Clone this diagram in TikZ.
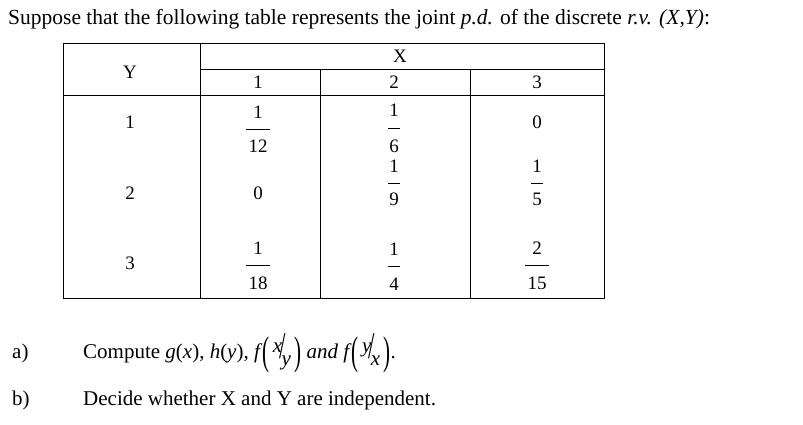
\documentclass[tikz,border=0pt]{standalone}
\usepackage{fontspec}
\setmainfont{Liberation Serif}
\usepackage{graphicx}
\newcommand{\slfrac}[2]{\,\raisebox{6pt}{\itshape #1}\hspace{-3pt}\scalebox{1.1}[1.8]{/}\hspace{-4pt}\raisebox{-7pt}{\itshape #2}\,}
\newcommand{\bp}[1]{\raisebox{-6pt}{\scalebox{1}[1.9]{#1}}}
\begin{document}
\begin{tikzpicture}[x=1pt,y=-1pt,
  cell/.style={font=\fontsize{19}{21}\selectfont,inner sep=0pt,anchor=center},
  txt/.style={font=\fontsize{21}{24}\selectfont,inner sep=0pt,anchor=base west},
  fb/.style={line width=0.7pt},
  tl/.style={line width=0.8pt}]
\useasboundingbox (0,0) rectangle (803,424);
\node[txt,font=\fontsize{21.5}{24}\selectfont] (title) at (8,24) {Suppose that the following table represents the joint \textit{p.d.} of the discrete \textit{r.v.} \textit{(X,Y)}:};
% table
\draw[tl] (63,43) rectangle (604,298);
\draw[tl] (200,43) -- (200,298);
\draw[tl] (200,69) -- (604,69);
\draw[tl] (63,95) -- (604,95);
\draw[tl] (320,69) -- (320,298);
\draw[tl] (470,69) -- (470,298);
\node[cell] (hY) at (130,72) {Y};
\node[cell] (hX) at (400,56) {X};
\node[cell] (c1) at (258,82) {1};
\node[cell] (c2) at (394,82) {2};
\node[cell] (c3) at (537,82) {3};
\node[cell] (r1) at (130,122) {1};
\node[cell] (r2) at (130,193) {2};
\node[cell] (r3) at (130,263) {3};
\node[cell] (a1) at (258,112) {1}; \node[cell] (b1) at (258,146) {12};
\draw[fb] (246,129) -- (270,129);
\node[cell] (a2) at (394,110) {1}; \node[cell] (b2) at (394,146) {6};
\draw[fb] (388,128) -- (400,128);
\node[cell] (z1) at (537,122) {0};
\node[cell] (z2) at (258,193) {0};
\node[cell] (a3) at (394,166) {1}; \node[cell] (b3) at (394,199) {9};
\draw[fb] (388,183) -- (400,183);
\node[cell] (a4) at (537,166) {1}; \node[cell] (b4) at (537,199) {5};
\draw[fb] (531,183) -- (543,183);
\node[cell] (a5) at (258,248) {1}; \node[cell] (b5) at (258,283) {18};
\draw[fb] (246,265) -- (270,265);
\node[cell] (a6) at (394,249) {1}; \node[cell] (b6) at (394,284) {4};
\draw[fb] (388,266) -- (400,266);
\node[cell] (a7) at (537,248) {2}; \node[cell] (b7) at (537,283) {15};
\draw[fb] (525,265) -- (549,265);
% questions
\node[txt] (qa) at (12,358) {a)};
\node[txt] (qb) at (12,405) {b)};
\node[txt] (ca) at (83,358) {Compute \textit{g}(\textit{x}), \textit{h}(\textit{y}), \textit{f}\bp{(}\slfrac{x}{y}\bp{)} \textit{and} \textit{f}\bp{(}\slfrac{y}{x}\bp{)}.};
\node[txt] (cb) at (83,405) {Decide whether X and Y are independent.};
\end{tikzpicture}
\end{document}
